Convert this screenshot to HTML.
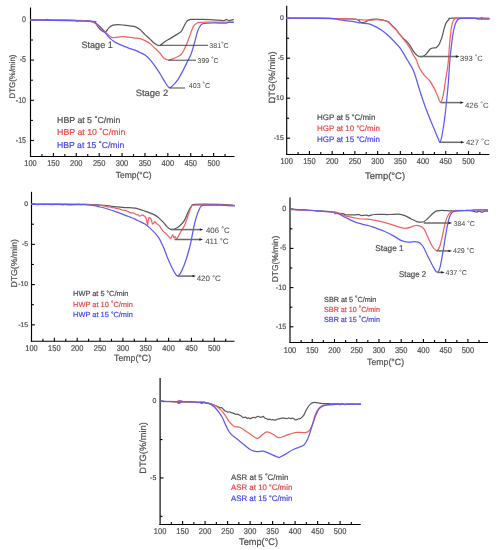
<!DOCTYPE html>
<html><head><meta charset="utf-8"><title>DTG curves</title>
<style>
html,body{margin:0;padding:0;background:#fff;}
body{width:498px;height:550px;overflow:hidden;}
svg{display:block;font-family:'Liberation Sans', Arial, sans-serif;text-rendering:geometricPrecision;}
text{stroke-width:0.22;paint-order:stroke;}
text.ns{stroke-width:0.05;}
</style></head>
<body>
<svg width="498" height="550" viewBox="0 0 498 550">
<rect x="0" y="0" width="498" height="550" fill="#fff"/>
<line x1="30.50" y1="7.50" x2="30.50" y2="157.07" stroke="#000" stroke-width="1.15"/>
<line x1="29.93" y1="156.50" x2="234.50" y2="156.50" stroke="#000" stroke-width="1.15"/>
<line x1="41.95" y1="156.50" x2="41.95" y2="154.10" stroke="#000" stroke-width="1.10"/>
<line x1="53.39" y1="156.50" x2="53.39" y2="153.10" stroke="#000" stroke-width="1.10"/>
<line x1="64.84" y1="156.50" x2="64.84" y2="154.10" stroke="#000" stroke-width="1.10"/>
<line x1="76.28" y1="156.50" x2="76.28" y2="153.10" stroke="#000" stroke-width="1.10"/>
<line x1="87.72" y1="156.50" x2="87.72" y2="154.10" stroke="#000" stroke-width="1.10"/>
<line x1="99.17" y1="156.50" x2="99.17" y2="153.10" stroke="#000" stroke-width="1.10"/>
<line x1="110.61" y1="156.50" x2="110.61" y2="154.10" stroke="#000" stroke-width="1.10"/>
<line x1="122.06" y1="156.50" x2="122.06" y2="153.10" stroke="#000" stroke-width="1.10"/>
<line x1="133.50" y1="156.50" x2="133.50" y2="154.10" stroke="#000" stroke-width="1.10"/>
<line x1="144.95" y1="156.50" x2="144.95" y2="153.10" stroke="#000" stroke-width="1.10"/>
<line x1="156.39" y1="156.50" x2="156.39" y2="154.10" stroke="#000" stroke-width="1.10"/>
<line x1="167.84" y1="156.50" x2="167.84" y2="153.10" stroke="#000" stroke-width="1.10"/>
<line x1="179.28" y1="156.50" x2="179.28" y2="154.10" stroke="#000" stroke-width="1.10"/>
<line x1="190.73" y1="156.50" x2="190.73" y2="153.10" stroke="#000" stroke-width="1.10"/>
<line x1="202.17" y1="156.50" x2="202.17" y2="154.10" stroke="#000" stroke-width="1.10"/>
<line x1="213.62" y1="156.50" x2="213.62" y2="153.10" stroke="#000" stroke-width="1.10"/>
<line x1="225.06" y1="156.50" x2="225.06" y2="154.10" stroke="#000" stroke-width="1.10"/>
<text x="30.50" y="165.90" font-size="8.40" fill="#505050" stroke="#505050" text-anchor="middle" textLength="12.47" lengthAdjust="spacingAndGlyphs">100</text>
<text x="53.39" y="165.90" font-size="8.40" fill="#505050" stroke="#505050" text-anchor="middle" textLength="12.47" lengthAdjust="spacingAndGlyphs">150</text>
<text x="76.28" y="165.90" font-size="8.40" fill="#505050" stroke="#505050" text-anchor="middle" textLength="12.47" lengthAdjust="spacingAndGlyphs">200</text>
<text x="99.17" y="165.90" font-size="8.40" fill="#505050" stroke="#505050" text-anchor="middle" textLength="12.47" lengthAdjust="spacingAndGlyphs">250</text>
<text x="122.06" y="165.90" font-size="8.40" fill="#505050" stroke="#505050" text-anchor="middle" textLength="12.47" lengthAdjust="spacingAndGlyphs">300</text>
<text x="144.95" y="165.90" font-size="8.40" fill="#505050" stroke="#505050" text-anchor="middle" textLength="12.47" lengthAdjust="spacingAndGlyphs">350</text>
<text x="167.84" y="165.90" font-size="8.40" fill="#505050" stroke="#505050" text-anchor="middle" textLength="12.47" lengthAdjust="spacingAndGlyphs">400</text>
<text x="190.73" y="165.90" font-size="8.40" fill="#505050" stroke="#505050" text-anchor="middle" textLength="12.47" lengthAdjust="spacingAndGlyphs">450</text>
<text x="213.62" y="165.90" font-size="8.40" fill="#505050" stroke="#505050" text-anchor="middle" textLength="12.47" lengthAdjust="spacingAndGlyphs">500</text>
<line x1="30.50" y1="19.90" x2="33.90" y2="19.90" stroke="#000" stroke-width="1.10"/>
<line x1="30.50" y1="40.00" x2="32.90" y2="40.00" stroke="#000" stroke-width="1.10"/>
<line x1="30.50" y1="60.10" x2="33.90" y2="60.10" stroke="#000" stroke-width="1.10"/>
<line x1="30.50" y1="80.20" x2="32.90" y2="80.20" stroke="#000" stroke-width="1.10"/>
<line x1="30.50" y1="100.30" x2="33.90" y2="100.30" stroke="#000" stroke-width="1.10"/>
<line x1="30.50" y1="120.40" x2="32.90" y2="120.40" stroke="#000" stroke-width="1.10"/>
<line x1="30.50" y1="140.50" x2="33.90" y2="140.50" stroke="#000" stroke-width="1.10"/>
<text x="26.00" y="22.17" font-size="8.30" fill="#505050" stroke="#505050" text-anchor="end" textLength="3.92" lengthAdjust="spacingAndGlyphs">0</text>
<text x="26.00" y="62.37" font-size="8.30" fill="#505050" stroke="#505050" text-anchor="end" textLength="6.27" lengthAdjust="spacingAndGlyphs">-5</text>
<text x="26.00" y="102.57" font-size="8.30" fill="#505050" stroke="#505050" text-anchor="end" textLength="10.19" lengthAdjust="spacingAndGlyphs">-10</text>
<text x="26.00" y="142.77" font-size="8.30" fill="#505050" stroke="#505050" text-anchor="end" textLength="10.19" lengthAdjust="spacingAndGlyphs">-15</text>
<text transform="translate(14.60,76.50) rotate(-90)" x="0" y="0" font-size="8.00" fill="#505050" stroke="#505050" text-anchor="middle" textLength="44.00" lengthAdjust="spacingAndGlyphs">DTG(%/min)</text>
<text x="115.70" y="177.50" font-size="8.80" fill="#505050" stroke="#505050" textLength="36.00" lengthAdjust="spacingAndGlyphs">Temp(&#176;C)</text>
<line x1="286.70" y1="5.80" x2="286.70" y2="155.07" stroke="#000" stroke-width="1.15"/>
<line x1="286.12" y1="154.50" x2="489.40" y2="154.50" stroke="#000" stroke-width="1.15"/>
<line x1="298.06" y1="154.50" x2="298.06" y2="152.10" stroke="#000" stroke-width="1.10"/>
<line x1="309.43" y1="154.50" x2="309.43" y2="151.10" stroke="#000" stroke-width="1.10"/>
<line x1="320.79" y1="154.50" x2="320.79" y2="152.10" stroke="#000" stroke-width="1.10"/>
<line x1="332.15" y1="154.50" x2="332.15" y2="151.10" stroke="#000" stroke-width="1.10"/>
<line x1="343.51" y1="154.50" x2="343.51" y2="152.10" stroke="#000" stroke-width="1.10"/>
<line x1="354.88" y1="154.50" x2="354.88" y2="151.10" stroke="#000" stroke-width="1.10"/>
<line x1="366.24" y1="154.50" x2="366.24" y2="152.10" stroke="#000" stroke-width="1.10"/>
<line x1="377.60" y1="154.50" x2="377.60" y2="151.10" stroke="#000" stroke-width="1.10"/>
<line x1="388.96" y1="154.50" x2="388.96" y2="152.10" stroke="#000" stroke-width="1.10"/>
<line x1="400.32" y1="154.50" x2="400.32" y2="151.10" stroke="#000" stroke-width="1.10"/>
<line x1="411.69" y1="154.50" x2="411.69" y2="152.10" stroke="#000" stroke-width="1.10"/>
<line x1="423.05" y1="154.50" x2="423.05" y2="151.10" stroke="#000" stroke-width="1.10"/>
<line x1="434.41" y1="154.50" x2="434.41" y2="152.10" stroke="#000" stroke-width="1.10"/>
<line x1="445.77" y1="154.50" x2="445.77" y2="151.10" stroke="#000" stroke-width="1.10"/>
<line x1="457.14" y1="154.50" x2="457.14" y2="152.10" stroke="#000" stroke-width="1.10"/>
<line x1="468.50" y1="154.50" x2="468.50" y2="151.10" stroke="#000" stroke-width="1.10"/>
<line x1="479.86" y1="154.50" x2="479.86" y2="152.10" stroke="#000" stroke-width="1.10"/>
<text x="286.70" y="164.10" font-size="8.40" fill="#505050" stroke="#505050" text-anchor="middle" textLength="12.47" lengthAdjust="spacingAndGlyphs">100</text>
<text x="309.43" y="164.10" font-size="8.40" fill="#505050" stroke="#505050" text-anchor="middle" textLength="12.47" lengthAdjust="spacingAndGlyphs">150</text>
<text x="332.15" y="164.10" font-size="8.40" fill="#505050" stroke="#505050" text-anchor="middle" textLength="12.47" lengthAdjust="spacingAndGlyphs">200</text>
<text x="354.88" y="164.10" font-size="8.40" fill="#505050" stroke="#505050" text-anchor="middle" textLength="12.47" lengthAdjust="spacingAndGlyphs">250</text>
<text x="377.60" y="164.10" font-size="8.40" fill="#505050" stroke="#505050" text-anchor="middle" textLength="12.47" lengthAdjust="spacingAndGlyphs">300</text>
<text x="400.32" y="164.10" font-size="8.40" fill="#505050" stroke="#505050" text-anchor="middle" textLength="12.47" lengthAdjust="spacingAndGlyphs">350</text>
<text x="423.05" y="164.10" font-size="8.40" fill="#505050" stroke="#505050" text-anchor="middle" textLength="12.47" lengthAdjust="spacingAndGlyphs">400</text>
<text x="445.77" y="164.10" font-size="8.40" fill="#505050" stroke="#505050" text-anchor="middle" textLength="12.47" lengthAdjust="spacingAndGlyphs">450</text>
<text x="468.50" y="164.10" font-size="8.40" fill="#505050" stroke="#505050" text-anchor="middle" textLength="12.47" lengthAdjust="spacingAndGlyphs">500</text>
<line x1="286.70" y1="18.20" x2="290.10" y2="18.20" stroke="#000" stroke-width="1.10"/>
<line x1="286.70" y1="38.20" x2="289.10" y2="38.20" stroke="#000" stroke-width="1.10"/>
<line x1="286.70" y1="58.20" x2="290.10" y2="58.20" stroke="#000" stroke-width="1.10"/>
<line x1="286.70" y1="78.20" x2="289.10" y2="78.20" stroke="#000" stroke-width="1.10"/>
<line x1="286.70" y1="98.20" x2="290.10" y2="98.20" stroke="#000" stroke-width="1.10"/>
<line x1="286.70" y1="118.20" x2="289.10" y2="118.20" stroke="#000" stroke-width="1.10"/>
<line x1="286.70" y1="138.20" x2="290.10" y2="138.20" stroke="#000" stroke-width="1.10"/>
<text x="283.70" y="19.93" font-size="6.80" fill="#505050" stroke="#505050" text-anchor="end" textLength="3.78" lengthAdjust="spacingAndGlyphs">0</text>
<text x="283.70" y="59.93" font-size="6.80" fill="#505050" stroke="#505050" text-anchor="end" textLength="6.05" lengthAdjust="spacingAndGlyphs">-5</text>
<text x="283.70" y="99.93" font-size="6.80" fill="#505050" stroke="#505050" text-anchor="end" textLength="9.83" lengthAdjust="spacingAndGlyphs">-10</text>
<text x="283.70" y="139.93" font-size="6.80" fill="#505050" stroke="#505050" text-anchor="end" textLength="9.83" lengthAdjust="spacingAndGlyphs">-15</text>
<text transform="translate(275.20,77.40) rotate(-90)" x="0" y="0" font-size="9.00" fill="#505050" stroke="#505050" text-anchor="middle" textLength="52.00" lengthAdjust="spacingAndGlyphs">DTG(%/min)</text>
<text x="365.10" y="179.10" font-size="9.50" fill="#505050" stroke="#505050" textLength="40.00" lengthAdjust="spacingAndGlyphs">Temp(&#176;C)</text>
<line x1="31.50" y1="191.80" x2="31.50" y2="341.77" stroke="#000" stroke-width="1.15"/>
<line x1="30.93" y1="341.20" x2="234.50" y2="341.20" stroke="#000" stroke-width="1.15"/>
<line x1="42.92" y1="341.20" x2="42.92" y2="338.80" stroke="#000" stroke-width="1.10"/>
<line x1="54.35" y1="341.20" x2="54.35" y2="337.80" stroke="#000" stroke-width="1.10"/>
<line x1="65.78" y1="341.20" x2="65.78" y2="338.80" stroke="#000" stroke-width="1.10"/>
<line x1="77.20" y1="341.20" x2="77.20" y2="337.80" stroke="#000" stroke-width="1.10"/>
<line x1="88.62" y1="341.20" x2="88.62" y2="338.80" stroke="#000" stroke-width="1.10"/>
<line x1="100.05" y1="341.20" x2="100.05" y2="337.80" stroke="#000" stroke-width="1.10"/>
<line x1="111.48" y1="341.20" x2="111.48" y2="338.80" stroke="#000" stroke-width="1.10"/>
<line x1="122.90" y1="341.20" x2="122.90" y2="337.80" stroke="#000" stroke-width="1.10"/>
<line x1="134.32" y1="341.20" x2="134.32" y2="338.80" stroke="#000" stroke-width="1.10"/>
<line x1="145.75" y1="341.20" x2="145.75" y2="337.80" stroke="#000" stroke-width="1.10"/>
<line x1="157.18" y1="341.20" x2="157.18" y2="338.80" stroke="#000" stroke-width="1.10"/>
<line x1="168.60" y1="341.20" x2="168.60" y2="337.80" stroke="#000" stroke-width="1.10"/>
<line x1="180.03" y1="341.20" x2="180.03" y2="338.80" stroke="#000" stroke-width="1.10"/>
<line x1="191.45" y1="341.20" x2="191.45" y2="337.80" stroke="#000" stroke-width="1.10"/>
<line x1="202.88" y1="341.20" x2="202.88" y2="338.80" stroke="#000" stroke-width="1.10"/>
<line x1="214.30" y1="341.20" x2="214.30" y2="337.80" stroke="#000" stroke-width="1.10"/>
<line x1="225.72" y1="341.20" x2="225.72" y2="338.80" stroke="#000" stroke-width="1.10"/>
<text x="31.50" y="351.00" font-size="8.40" fill="#505050" stroke="#505050" text-anchor="middle" textLength="12.47" lengthAdjust="spacingAndGlyphs">100</text>
<text x="54.35" y="351.00" font-size="8.40" fill="#505050" stroke="#505050" text-anchor="middle" textLength="12.47" lengthAdjust="spacingAndGlyphs">150</text>
<text x="77.20" y="351.00" font-size="8.40" fill="#505050" stroke="#505050" text-anchor="middle" textLength="12.47" lengthAdjust="spacingAndGlyphs">200</text>
<text x="100.05" y="351.00" font-size="8.40" fill="#505050" stroke="#505050" text-anchor="middle" textLength="12.47" lengthAdjust="spacingAndGlyphs">250</text>
<text x="122.90" y="351.00" font-size="8.40" fill="#505050" stroke="#505050" text-anchor="middle" textLength="12.47" lengthAdjust="spacingAndGlyphs">300</text>
<text x="145.75" y="351.00" font-size="8.40" fill="#505050" stroke="#505050" text-anchor="middle" textLength="12.47" lengthAdjust="spacingAndGlyphs">350</text>
<text x="168.60" y="351.00" font-size="8.40" fill="#505050" stroke="#505050" text-anchor="middle" textLength="12.47" lengthAdjust="spacingAndGlyphs">400</text>
<text x="191.45" y="351.00" font-size="8.40" fill="#505050" stroke="#505050" text-anchor="middle" textLength="12.47" lengthAdjust="spacingAndGlyphs">450</text>
<text x="214.30" y="351.00" font-size="8.40" fill="#505050" stroke="#505050" text-anchor="middle" textLength="12.47" lengthAdjust="spacingAndGlyphs">500</text>
<line x1="31.50" y1="204.10" x2="34.90" y2="204.10" stroke="#000" stroke-width="1.10"/>
<line x1="31.50" y1="224.22" x2="33.90" y2="224.22" stroke="#000" stroke-width="1.10"/>
<line x1="31.50" y1="244.35" x2="34.90" y2="244.35" stroke="#000" stroke-width="1.10"/>
<line x1="31.50" y1="264.48" x2="33.90" y2="264.48" stroke="#000" stroke-width="1.10"/>
<line x1="31.50" y1="284.60" x2="34.90" y2="284.60" stroke="#000" stroke-width="1.10"/>
<line x1="31.50" y1="304.73" x2="33.90" y2="304.73" stroke="#000" stroke-width="1.10"/>
<line x1="31.50" y1="324.85" x2="34.90" y2="324.85" stroke="#000" stroke-width="1.10"/>
<text x="28.10" y="205.83" font-size="6.80" fill="#505050" stroke="#505050" text-anchor="end" textLength="3.78" lengthAdjust="spacingAndGlyphs">0</text>
<text x="28.10" y="246.08" font-size="6.80" fill="#505050" stroke="#505050" text-anchor="end" textLength="6.05" lengthAdjust="spacingAndGlyphs">-5</text>
<text x="28.10" y="286.33" font-size="6.80" fill="#505050" stroke="#505050" text-anchor="end" textLength="9.83" lengthAdjust="spacingAndGlyphs">-10</text>
<text x="28.10" y="326.58" font-size="6.80" fill="#505050" stroke="#505050" text-anchor="end" textLength="9.83" lengthAdjust="spacingAndGlyphs">-15</text>
<text transform="translate(17.20,263.30) rotate(-90)" x="0" y="0" font-size="8.50" fill="#505050" stroke="#505050" text-anchor="middle" textLength="48.50" lengthAdjust="spacingAndGlyphs">DTG(%/min)</text>
<text x="114.10" y="360.70" font-size="9.00" fill="#505050" stroke="#505050" textLength="37.00" lengthAdjust="spacingAndGlyphs">Temp(&#176;C)</text>
<line x1="290.00" y1="197.60" x2="290.00" y2="343.07" stroke="#000" stroke-width="1.15"/>
<line x1="289.43" y1="342.50" x2="487.90" y2="342.50" stroke="#000" stroke-width="1.15"/>
<line x1="301.12" y1="342.50" x2="301.12" y2="340.10" stroke="#000" stroke-width="1.10"/>
<line x1="312.24" y1="342.50" x2="312.24" y2="339.10" stroke="#000" stroke-width="1.10"/>
<line x1="323.36" y1="342.50" x2="323.36" y2="340.10" stroke="#000" stroke-width="1.10"/>
<line x1="334.48" y1="342.50" x2="334.48" y2="339.10" stroke="#000" stroke-width="1.10"/>
<line x1="345.60" y1="342.50" x2="345.60" y2="340.10" stroke="#000" stroke-width="1.10"/>
<line x1="356.72" y1="342.50" x2="356.72" y2="339.10" stroke="#000" stroke-width="1.10"/>
<line x1="367.84" y1="342.50" x2="367.84" y2="340.10" stroke="#000" stroke-width="1.10"/>
<line x1="378.96" y1="342.50" x2="378.96" y2="339.10" stroke="#000" stroke-width="1.10"/>
<line x1="390.08" y1="342.50" x2="390.08" y2="340.10" stroke="#000" stroke-width="1.10"/>
<line x1="401.20" y1="342.50" x2="401.20" y2="339.10" stroke="#000" stroke-width="1.10"/>
<line x1="412.32" y1="342.50" x2="412.32" y2="340.10" stroke="#000" stroke-width="1.10"/>
<line x1="423.44" y1="342.50" x2="423.44" y2="339.10" stroke="#000" stroke-width="1.10"/>
<line x1="434.56" y1="342.50" x2="434.56" y2="340.10" stroke="#000" stroke-width="1.10"/>
<line x1="445.68" y1="342.50" x2="445.68" y2="339.10" stroke="#000" stroke-width="1.10"/>
<line x1="456.80" y1="342.50" x2="456.80" y2="340.10" stroke="#000" stroke-width="1.10"/>
<line x1="467.92" y1="342.50" x2="467.92" y2="339.10" stroke="#000" stroke-width="1.10"/>
<line x1="479.04" y1="342.50" x2="479.04" y2="340.10" stroke="#000" stroke-width="1.10"/>
<text x="290.00" y="352.60" font-size="8.40" fill="#505050" stroke="#505050" text-anchor="middle" textLength="12.47" lengthAdjust="spacingAndGlyphs">100</text>
<text x="312.24" y="352.60" font-size="8.40" fill="#505050" stroke="#505050" text-anchor="middle" textLength="12.47" lengthAdjust="spacingAndGlyphs">150</text>
<text x="334.48" y="352.60" font-size="8.40" fill="#505050" stroke="#505050" text-anchor="middle" textLength="12.47" lengthAdjust="spacingAndGlyphs">200</text>
<text x="356.72" y="352.60" font-size="8.40" fill="#505050" stroke="#505050" text-anchor="middle" textLength="12.47" lengthAdjust="spacingAndGlyphs">250</text>
<text x="378.96" y="352.60" font-size="8.40" fill="#505050" stroke="#505050" text-anchor="middle" textLength="12.47" lengthAdjust="spacingAndGlyphs">300</text>
<text x="401.20" y="352.60" font-size="8.40" fill="#505050" stroke="#505050" text-anchor="middle" textLength="12.47" lengthAdjust="spacingAndGlyphs">350</text>
<text x="423.44" y="352.60" font-size="8.40" fill="#505050" stroke="#505050" text-anchor="middle" textLength="12.47" lengthAdjust="spacingAndGlyphs">400</text>
<text x="445.68" y="352.60" font-size="8.40" fill="#505050" stroke="#505050" text-anchor="middle" textLength="12.47" lengthAdjust="spacingAndGlyphs">450</text>
<text x="467.92" y="352.60" font-size="8.40" fill="#505050" stroke="#505050" text-anchor="middle" textLength="12.47" lengthAdjust="spacingAndGlyphs">500</text>
<line x1="290.00" y1="209.20" x2="293.40" y2="209.20" stroke="#000" stroke-width="1.10"/>
<line x1="290.00" y1="228.80" x2="292.40" y2="228.80" stroke="#000" stroke-width="1.10"/>
<line x1="290.00" y1="248.40" x2="293.40" y2="248.40" stroke="#000" stroke-width="1.10"/>
<line x1="290.00" y1="268.00" x2="292.40" y2="268.00" stroke="#000" stroke-width="1.10"/>
<line x1="290.00" y1="287.60" x2="293.40" y2="287.60" stroke="#000" stroke-width="1.10"/>
<line x1="290.00" y1="307.20" x2="292.40" y2="307.20" stroke="#000" stroke-width="1.10"/>
<line x1="290.00" y1="326.80" x2="293.40" y2="326.80" stroke="#000" stroke-width="1.10"/>
<text x="286.30" y="211.22" font-size="7.60" fill="#505050" stroke="#505050" text-anchor="end" textLength="4.01" lengthAdjust="spacingAndGlyphs">0</text>
<text x="286.30" y="250.42" font-size="7.60" fill="#505050" stroke="#505050" text-anchor="end" textLength="6.42" lengthAdjust="spacingAndGlyphs">-5</text>
<text x="286.30" y="289.62" font-size="7.60" fill="#505050" stroke="#505050" text-anchor="end" textLength="10.43" lengthAdjust="spacingAndGlyphs">-10</text>
<text x="286.30" y="328.82" font-size="7.60" fill="#505050" stroke="#505050" text-anchor="end" textLength="10.43" lengthAdjust="spacingAndGlyphs">-15</text>
<text transform="translate(277.80,259.00) rotate(-90)" x="0" y="0" font-size="8.40" fill="#505050" stroke="#505050" text-anchor="middle" textLength="46.60" lengthAdjust="spacingAndGlyphs">DTG(%/min)</text>
<text x="367.10" y="365.10" font-size="9.00" fill="#505050" stroke="#505050" textLength="37.00" lengthAdjust="spacingAndGlyphs">Temp(&#176;C)</text>
<line x1="160.10" y1="377.90" x2="160.10" y2="525.08" stroke="#000" stroke-width="1.15"/>
<line x1="159.53" y1="524.50" x2="360.70" y2="524.50" stroke="#000" stroke-width="1.15"/>
<line x1="171.35" y1="524.50" x2="171.35" y2="522.10" stroke="#000" stroke-width="1.10"/>
<line x1="182.60" y1="524.50" x2="182.60" y2="521.10" stroke="#000" stroke-width="1.10"/>
<line x1="193.85" y1="524.50" x2="193.85" y2="522.10" stroke="#000" stroke-width="1.10"/>
<line x1="205.10" y1="524.50" x2="205.10" y2="521.10" stroke="#000" stroke-width="1.10"/>
<line x1="216.35" y1="524.50" x2="216.35" y2="522.10" stroke="#000" stroke-width="1.10"/>
<line x1="227.60" y1="524.50" x2="227.60" y2="521.10" stroke="#000" stroke-width="1.10"/>
<line x1="238.85" y1="524.50" x2="238.85" y2="522.10" stroke="#000" stroke-width="1.10"/>
<line x1="250.10" y1="524.50" x2="250.10" y2="521.10" stroke="#000" stroke-width="1.10"/>
<line x1="261.35" y1="524.50" x2="261.35" y2="522.10" stroke="#000" stroke-width="1.10"/>
<line x1="272.60" y1="524.50" x2="272.60" y2="521.10" stroke="#000" stroke-width="1.10"/>
<line x1="283.85" y1="524.50" x2="283.85" y2="522.10" stroke="#000" stroke-width="1.10"/>
<line x1="295.10" y1="524.50" x2="295.10" y2="521.10" stroke="#000" stroke-width="1.10"/>
<line x1="306.35" y1="524.50" x2="306.35" y2="522.10" stroke="#000" stroke-width="1.10"/>
<line x1="317.60" y1="524.50" x2="317.60" y2="521.10" stroke="#000" stroke-width="1.10"/>
<line x1="328.85" y1="524.50" x2="328.85" y2="522.10" stroke="#000" stroke-width="1.10"/>
<line x1="340.10" y1="524.50" x2="340.10" y2="521.10" stroke="#000" stroke-width="1.10"/>
<line x1="351.35" y1="524.50" x2="351.35" y2="522.10" stroke="#000" stroke-width="1.10"/>
<text x="160.10" y="533.90" font-size="8.40" fill="#505050" stroke="#505050" text-anchor="middle" textLength="12.47" lengthAdjust="spacingAndGlyphs">100</text>
<text x="182.60" y="533.90" font-size="8.40" fill="#505050" stroke="#505050" text-anchor="middle" textLength="12.47" lengthAdjust="spacingAndGlyphs">150</text>
<text x="205.10" y="533.90" font-size="8.40" fill="#505050" stroke="#505050" text-anchor="middle" textLength="12.47" lengthAdjust="spacingAndGlyphs">200</text>
<text x="227.60" y="533.90" font-size="8.40" fill="#505050" stroke="#505050" text-anchor="middle" textLength="12.47" lengthAdjust="spacingAndGlyphs">250</text>
<text x="250.10" y="533.90" font-size="8.40" fill="#505050" stroke="#505050" text-anchor="middle" textLength="12.47" lengthAdjust="spacingAndGlyphs">300</text>
<text x="272.60" y="533.90" font-size="8.40" fill="#505050" stroke="#505050" text-anchor="middle" textLength="12.47" lengthAdjust="spacingAndGlyphs">350</text>
<text x="295.10" y="533.90" font-size="8.40" fill="#505050" stroke="#505050" text-anchor="middle" textLength="12.47" lengthAdjust="spacingAndGlyphs">400</text>
<text x="317.60" y="533.90" font-size="8.40" fill="#505050" stroke="#505050" text-anchor="middle" textLength="12.47" lengthAdjust="spacingAndGlyphs">450</text>
<text x="340.10" y="533.90" font-size="8.40" fill="#505050" stroke="#505050" text-anchor="middle" textLength="12.47" lengthAdjust="spacingAndGlyphs">500</text>
<line x1="160.10" y1="401.20" x2="163.50" y2="401.20" stroke="#000" stroke-width="1.10"/>
<line x1="160.10" y1="439.57" x2="162.50" y2="439.57" stroke="#000" stroke-width="1.10"/>
<line x1="160.10" y1="477.95" x2="163.50" y2="477.95" stroke="#000" stroke-width="1.10"/>
<line x1="160.10" y1="516.33" x2="162.50" y2="516.33" stroke="#000" stroke-width="1.10"/>
<text x="156.30" y="403.01" font-size="7.00" fill="#505050" stroke="#505050" text-anchor="end" textLength="3.89" lengthAdjust="spacingAndGlyphs">0</text>
<text x="156.30" y="479.76" font-size="7.00" fill="#505050" stroke="#505050" text-anchor="end" textLength="6.22" lengthAdjust="spacingAndGlyphs">-5</text>
<text transform="translate(146.00,448.00) rotate(-90)" x="0" y="0" font-size="9.20" fill="#505050" stroke="#505050" text-anchor="middle" textLength="51.60" lengthAdjust="spacingAndGlyphs">DTG(%/min)</text>
<text x="239.10" y="545.10" font-size="9.70" fill="#505050" stroke="#505050" textLength="39.00" lengthAdjust="spacingAndGlyphs">Temp(&#176;C)</text>
<path d="M30.50,19.90 C32.92,19.88 42.25,19.90 45.00,19.80 C47.75,19.70 46.33,19.30 47.00,19.30 C47.67,19.30 46.83,19.67 49.00,19.80 C51.17,19.93 55.67,20.02 60.00,20.10 C64.33,20.18 70.83,20.18 75.00,20.30 C79.17,20.42 82.50,20.65 85.00,20.80 C87.50,20.95 88.33,20.90 90.00,21.20 C91.67,21.50 93.67,21.67 95.00,22.60 C96.33,23.53 97.00,25.57 98.00,26.80 C99.00,28.03 100.00,29.17 101.00,30.00 C102.00,30.83 103.17,31.53 104.00,31.80 C104.83,32.07 105.17,32.30 106.00,31.60 C106.83,30.90 107.83,28.68 109.00,27.60 C110.17,26.52 111.50,25.60 113.00,25.10 C114.50,24.60 116.17,24.60 118.00,24.60 C119.83,24.60 122.00,24.88 124.00,25.10 C126.00,25.32 128.17,25.65 130.00,25.90 C131.83,26.15 133.33,25.98 135.00,26.60 C136.67,27.22 138.33,28.27 140.00,29.60 C141.67,30.93 143.33,33.02 145.00,34.60 C146.67,36.18 148.50,37.68 150.00,39.10 C151.50,40.52 152.83,42.12 154.00,43.10 C155.17,44.08 156.00,44.63 157.00,45.00 C158.00,45.37 158.67,45.87 160.00,45.30 C161.33,44.73 163.33,42.72 165.00,41.60 C166.67,40.48 168.33,39.60 170.00,38.60 C171.67,37.60 173.33,36.60 175.00,35.60 C176.67,34.60 178.80,33.55 180.00,32.60 C181.20,31.65 181.47,31.08 182.20,29.90 C182.93,28.72 183.67,26.88 184.40,25.50 C185.13,24.12 185.87,22.53 186.60,21.60 C187.33,20.67 188.07,20.27 188.80,19.90 C189.53,19.53 188.80,19.48 191.00,19.40 C193.20,19.32 198.33,19.32 202.00,19.40 C205.67,19.48 209.33,19.72 213.00,19.90 C216.67,20.08 221.77,20.58 224.00,20.50 C226.23,20.42 225.63,19.40 226.40,19.40 C227.17,19.40 227.45,20.47 228.60,20.50 C229.75,20.53 232.52,19.75 233.30,19.60" fill="none" stroke="#5a5a5a" stroke-width="1.25" stroke-linejoin="round" stroke-linecap="round"/>
<path d="M30.50,20.20 C35.42,20.20 52.58,20.17 60.00,20.20 C67.42,20.23 72.17,20.17 75.00,20.40 C77.83,20.63 76.33,21.60 77.00,21.60 C77.67,21.60 77.67,20.53 79.00,20.40 C80.33,20.27 83.17,20.65 85.00,20.80 C86.83,20.95 88.33,20.92 90.00,21.30 C91.67,21.68 93.33,22.13 95.00,23.10 C96.67,24.07 98.33,25.68 100.00,27.10 C101.67,28.52 103.33,30.05 105.00,31.60 C106.67,33.15 108.67,35.40 110.00,36.40 C111.33,37.40 111.67,37.48 113.00,37.60 C114.33,37.72 116.17,37.27 118.00,37.10 C119.83,36.93 122.00,36.55 124.00,36.60 C126.00,36.65 128.17,37.15 130.00,37.40 C131.83,37.65 133.33,37.90 135.00,38.10 C136.67,38.30 138.33,38.18 140.00,38.60 C141.67,39.02 143.33,39.77 145.00,40.60 C146.67,41.43 148.33,42.33 150.00,43.60 C151.67,44.87 153.33,46.60 155.00,48.20 C156.67,49.80 158.50,51.52 160.00,53.20 C161.50,54.88 162.67,57.17 164.00,58.30 C165.33,59.43 166.67,59.87 168.00,60.00 C169.33,60.13 170.33,59.68 172.00,59.10 C173.67,58.52 176.50,57.27 178.00,56.50 C179.50,55.73 180.08,55.42 181.00,54.50 C181.92,53.58 182.57,52.72 183.50,51.00 C184.43,49.28 185.53,46.80 186.60,44.20 C187.67,41.60 188.78,38.33 189.90,35.40 C191.02,32.47 192.18,28.62 193.30,26.60 C194.42,24.58 195.48,24.00 196.60,23.30 C197.72,22.60 198.17,22.60 200.00,22.40 C201.83,22.20 204.48,22.15 207.60,22.10 C210.72,22.05 214.42,22.12 218.70,22.10 C222.98,22.08 230.87,22.02 233.30,22.00" fill="none" stroke="#f46262" stroke-width="1.25" stroke-linejoin="round" stroke-linecap="round"/>
<path d="M30.50,19.80 C40.42,20.03 79.25,20.73 90.00,21.20 C100.75,21.67 93.33,21.70 95.00,22.60 C96.67,23.50 98.33,24.93 100.00,26.60 C101.67,28.27 103.33,30.63 105.00,32.60 C106.67,34.57 108.33,36.82 110.00,38.40 C111.67,39.98 113.33,41.07 115.00,42.10 C116.67,43.13 118.33,43.85 120.00,44.60 C121.67,45.35 123.33,45.92 125.00,46.60 C126.67,47.28 128.33,48.10 130.00,48.70 C131.67,49.30 133.33,49.57 135.00,50.20 C136.67,50.83 138.33,51.68 140.00,52.50 C141.67,53.32 143.33,53.92 145.00,55.10 C146.67,56.28 148.33,57.77 150.00,59.60 C151.67,61.43 153.33,63.77 155.00,66.10 C156.67,68.43 158.33,70.93 160.00,73.60 C161.67,76.27 163.45,79.75 165.00,82.10 C166.55,84.45 167.95,87.20 169.30,87.70 C170.65,88.20 171.62,86.53 173.10,85.10 C174.58,83.67 176.52,81.60 178.20,79.10 C179.88,76.60 181.70,72.95 183.20,70.10 C184.70,67.25 185.90,64.65 187.20,62.00 C188.50,59.35 189.80,57.35 191.00,54.20 C192.20,51.05 193.28,46.97 194.40,43.10 C195.52,39.23 196.60,34.03 197.70,31.00 C198.80,27.97 199.90,26.15 201.00,24.90 C202.10,23.65 202.30,23.82 204.30,23.50 C206.30,23.18 209.38,23.07 213.00,23.00 C216.62,22.93 223.50,23.20 226.00,23.10 C228.50,23.00 226.78,22.52 228.00,22.40 C229.22,22.28 232.42,22.40 233.30,22.40" fill="none" stroke="#5c5cf5" stroke-width="1.25" stroke-linejoin="round" stroke-linecap="round"/>
<path d="M286.70,18.00 C288.92,18.02 294.45,18.07 300.00,18.10 C305.55,18.13 313.33,18.10 320.00,18.20 C326.67,18.30 334.67,18.57 340.00,18.70 C345.33,18.83 349.00,18.82 352.00,19.00 C355.00,19.18 356.50,19.22 358.00,19.80 C359.50,20.38 359.78,22.13 361.00,22.50 C362.22,22.87 363.97,22.43 365.30,22.00 C366.63,21.57 367.22,20.37 369.00,19.90 C370.78,19.43 373.83,19.22 376.00,19.20 C378.17,19.18 380.00,19.40 382.00,19.80 C384.00,20.20 386.37,20.70 388.00,21.60 C389.63,22.50 390.63,24.12 391.80,25.20 C392.97,26.28 393.63,26.53 395.00,28.10 C396.37,29.67 398.50,32.73 400.00,34.60 C401.50,36.47 403.00,38.30 404.00,39.30 C405.00,40.30 405.00,39.55 406.00,40.60 C407.00,41.65 408.67,43.67 410.00,45.60 C411.33,47.53 412.67,50.47 414.00,52.20 C415.33,53.93 416.50,55.30 418.00,56.00 C419.50,56.70 421.67,56.70 423.00,56.40 C424.33,56.10 424.83,55.40 426.00,54.20 C427.17,53.00 428.83,50.23 430.00,49.20 C431.17,48.17 432.00,48.25 433.00,48.00 C434.00,47.75 435.00,48.27 436.00,47.70 C437.00,47.13 438.25,45.72 439.00,44.60 C439.75,43.48 440.00,42.25 440.50,41.00 C441.00,39.75 441.42,39.08 442.00,37.10 C442.58,35.12 443.33,31.43 444.00,29.10 C444.67,26.77 445.17,24.68 446.00,23.10 C446.83,21.52 448.00,20.43 449.00,19.60 C450.00,18.77 446.83,18.32 452.00,18.10 C457.17,17.88 475.12,18.38 480.00,18.30 C484.88,18.22 480.88,17.60 481.30,17.60 C481.72,17.60 481.20,18.18 482.50,18.30 C483.80,18.42 488.00,18.30 489.10,18.30" fill="none" stroke="#5a5a5a" stroke-width="1.25" stroke-linejoin="round" stroke-linecap="round"/>
<path d="M286.70,18.30 C295.58,18.37 329.12,18.58 340.00,18.70 C350.88,18.82 347.18,18.75 352.00,19.00 C356.82,19.25 364.90,20.10 368.90,20.20 C372.90,20.30 373.82,19.60 376.00,19.60 C378.18,19.60 380.00,19.80 382.00,20.20 C384.00,20.60 386.37,21.08 388.00,22.00 C389.63,22.92 390.63,24.60 391.80,25.70 C392.97,26.80 393.63,27.12 395.00,28.60 C396.37,30.08 398.33,32.52 400.00,34.60 C401.67,36.68 403.33,38.83 405.00,41.10 C406.67,43.37 408.62,45.88 410.00,48.20 C411.38,50.52 412.23,53.03 413.30,55.00 C414.37,56.97 415.35,57.80 416.40,60.00 C417.45,62.20 418.25,65.62 419.60,68.20 C420.95,70.78 422.85,73.45 424.50,75.50 C426.15,77.55 427.85,78.32 429.50,80.50 C431.15,82.68 433.05,86.02 434.40,88.60 C435.75,91.18 436.58,93.73 437.60,96.00 C438.62,98.27 439.57,102.33 440.50,102.20 C441.43,102.07 442.35,98.97 443.20,95.20 C444.05,91.43 444.88,84.10 445.60,79.60 C446.32,75.10 447.00,71.80 447.50,68.20 C448.00,64.60 448.27,61.83 448.60,58.00 C448.93,54.17 449.18,49.02 449.50,45.20 C449.82,41.38 450.17,38.12 450.50,35.10 C450.83,32.08 451.07,29.43 451.50,27.10 C451.93,24.77 452.50,22.52 453.10,21.10 C453.70,19.68 454.28,19.10 455.10,18.60 C455.92,18.10 452.33,18.15 458.00,18.10 C463.67,18.05 483.92,18.27 489.10,18.30" fill="none" stroke="#f46262" stroke-width="1.25" stroke-linejoin="round" stroke-linecap="round"/>
<path d="M286.70,18.10 C293.92,18.15 321.12,18.10 330.00,18.40 C338.88,18.70 336.33,19.40 340.00,19.90 C343.67,20.40 348.50,20.88 352.00,21.40 C355.50,21.92 358.17,22.58 361.00,23.00 C363.83,23.42 366.50,23.25 369.00,23.90 C371.50,24.55 373.83,25.80 376.00,26.90 C378.17,28.00 380.00,29.10 382.00,30.50 C384.00,31.90 386.00,33.50 388.00,35.30 C390.00,37.10 392.00,39.20 394.00,41.30 C396.00,43.40 397.77,44.78 400.00,47.90 C402.23,51.02 405.22,56.35 407.40,60.00 C409.58,63.65 411.57,66.47 413.10,69.80 C414.63,73.13 415.52,76.63 416.60,80.00 C417.68,83.37 418.27,85.83 419.60,90.00 C420.93,94.17 422.80,100.00 424.60,105.00 C426.40,110.00 428.60,115.50 430.40,120.00 C432.20,124.50 434.07,128.83 435.40,132.00 C436.73,135.17 437.60,137.30 438.40,139.00 C439.20,140.70 439.50,143.37 440.20,142.20 C440.90,141.03 441.80,136.43 442.60,132.00 C443.40,127.57 444.33,120.78 445.00,115.60 C445.67,110.42 446.05,106.35 446.60,100.90 C447.15,95.45 447.75,89.72 448.30,82.90 C448.85,76.08 449.37,66.28 449.90,60.00 C450.43,53.72 451.07,49.02 451.50,45.20 C451.93,41.38 452.07,39.95 452.50,37.10 C452.93,34.25 453.50,30.60 454.10,28.10 C454.70,25.60 455.35,23.60 456.10,22.10 C456.85,20.60 457.62,19.73 458.60,19.10 C459.58,18.47 459.10,18.42 462.00,18.30 C464.90,18.18 473.50,18.27 476.00,18.40 C478.50,18.53 476.33,18.98 477.00,19.10 C477.67,19.22 477.98,19.10 480.00,19.10 C482.02,19.10 487.58,19.10 489.10,19.10" fill="none" stroke="#5c5cf5" stroke-width="1.25" stroke-linejoin="round" stroke-linecap="round"/>
<path d="M31.50,204.00 C40.25,204.07 72.58,204.23 84.00,204.40 C95.42,204.57 95.00,204.63 100.00,205.00 C105.00,205.37 109.83,206.17 114.00,206.60 C118.17,207.03 121.50,207.35 125.00,207.60 C128.50,207.85 131.67,207.52 135.00,208.10 C138.33,208.68 141.67,209.93 145.00,211.10 C148.33,212.27 152.50,213.77 155.00,215.10 C157.50,216.43 158.57,217.83 160.00,219.10 C161.43,220.37 162.40,221.40 163.60,222.70 C164.80,224.00 166.00,225.80 167.20,226.90 C168.40,228.00 169.58,228.95 170.80,229.30 C172.02,229.65 173.08,229.50 174.50,229.00 C175.92,228.50 177.70,227.65 179.30,226.30 C180.90,224.95 182.70,223.10 184.10,220.90 C185.50,218.70 186.50,215.52 187.70,213.10 C188.90,210.68 190.08,207.85 191.30,206.40 C192.52,204.95 190.22,204.73 195.00,204.40 C199.78,204.07 213.45,204.25 220.00,204.40 C226.55,204.55 231.92,205.15 234.30,205.30" fill="none" stroke="#5a5a5a" stroke-width="1.25" stroke-linejoin="round" stroke-linecap="round"/>
<path d="M31.50,204.40 C31.75,204.40 32.38,204.36 33.00,204.37 C33.62,204.38 34.47,204.40 35.20,204.46 C35.93,204.51 36.67,204.73 37.40,204.72 C38.13,204.71 38.87,204.45 39.60,204.41 C40.33,204.36 41.07,204.43 41.80,204.44 C42.53,204.46 43.27,204.54 44.00,204.51 C44.73,204.47 45.47,204.24 46.20,204.24 C46.93,204.23 47.67,204.42 48.40,204.47 C49.13,204.53 49.87,204.53 50.60,204.56 C51.33,204.60 52.07,204.75 52.80,204.69 C53.53,204.63 54.27,204.26 55.00,204.21 C55.73,204.15 56.47,204.36 57.20,204.36 C57.93,204.36 58.67,204.16 59.40,204.22 C60.13,204.28 60.87,204.66 61.60,204.73 C62.33,204.80 63.07,204.75 63.80,204.66 C64.53,204.57 65.27,204.17 66.00,204.21 C66.73,204.25 67.47,204.77 68.20,204.88 C68.93,204.99 69.67,204.91 70.40,204.87 C71.13,204.84 71.87,204.70 72.60,204.66 C73.33,204.63 74.07,204.70 74.80,204.65 C75.53,204.59 76.27,204.40 77.00,204.33 C77.73,204.27 78.47,204.20 79.20,204.24 C79.93,204.29 80.67,204.60 81.40,204.61 C82.13,204.62 82.87,204.32 83.60,204.29 C84.33,204.26 85.07,204.41 85.80,204.46 C86.53,204.51 87.27,204.57 88.00,204.58 C88.73,204.60 89.47,204.47 90.20,204.53 C90.93,204.58 91.67,204.84 92.40,204.92 C93.13,205.00 93.87,204.92 94.60,205.00 C95.33,205.07 95.90,205.32 96.80,205.37 C97.70,205.41 99.17,205.24 100.00,205.26 C100.83,205.27 101.20,205.30 101.80,205.45 C102.40,205.61 103.00,206.09 103.60,206.19 C104.20,206.29 104.80,205.96 105.40,206.06 C106.00,206.16 106.60,206.62 107.20,206.77 C107.80,206.92 108.40,206.92 109.00,206.96 C109.60,207.01 110.20,206.92 110.80,207.05 C111.40,207.18 112.00,207.63 112.60,207.75 C113.20,207.86 113.80,207.60 114.40,207.72 C115.00,207.84 115.60,208.32 116.20,208.47 C116.80,208.61 117.40,208.51 118.00,208.60 C118.60,208.70 119.20,208.85 119.80,209.04 C120.40,209.23 121.00,209.50 121.60,209.74 C122.20,209.98 122.80,210.38 123.40,210.48 C124.00,210.59 124.60,210.28 125.20,210.36 C125.80,210.44 126.40,210.73 127.00,210.98 C127.60,211.23 128.20,211.57 128.80,211.84 C129.40,212.12 130.00,212.46 130.60,212.64 C131.20,212.81 131.80,212.78 132.40,212.88 C133.00,212.99 133.60,213.01 134.20,213.28 C134.80,213.54 135.40,214.25 136.00,214.48 C136.60,214.71 137.20,214.35 137.80,214.64 C138.40,214.92 139.00,216.05 139.60,216.19 C140.20,216.32 140.83,215.65 141.40,215.47 C141.97,215.28 142.23,214.66 143.00,215.10 C143.77,215.54 145.23,216.43 146.00,218.10 C146.77,219.77 147.17,225.10 147.60,225.10 C148.03,225.10 148.03,219.10 148.60,218.10 C149.17,217.10 150.33,218.10 151.00,219.10 C151.67,220.10 152.00,223.68 152.60,224.10 C153.20,224.52 154.20,221.96 154.60,221.60 C155.00,221.24 154.68,221.63 155.00,221.92 C155.32,222.21 156.00,222.91 156.50,223.37 C157.00,223.82 157.50,224.24 158.00,224.65 C158.50,225.07 159.00,225.22 159.50,225.85 C160.00,226.48 160.50,227.68 161.00,228.42 C161.50,229.15 162.00,229.64 162.50,230.26 C163.00,230.87 163.50,231.62 164.00,232.12 C164.50,232.61 165.00,232.81 165.50,233.23 C166.00,233.65 166.50,234.10 167.00,234.63 C167.50,235.17 168.00,235.88 168.50,236.45 C169.00,237.03 169.62,237.74 170.00,238.07 C170.38,238.39 170.35,238.94 170.80,238.40 C171.25,237.86 172.18,234.90 172.70,234.80 C173.22,234.70 173.50,237.50 173.90,237.80 C174.30,238.10 174.60,236.50 175.10,236.60 C175.60,236.70 176.00,239.12 176.90,238.40 C177.80,237.68 179.30,234.32 180.50,232.30 C181.70,230.28 182.90,228.90 184.10,226.30 C185.30,223.70 186.50,219.92 187.70,216.70 C188.90,213.48 190.08,208.92 191.30,207.00 C192.52,205.08 190.22,205.55 195.00,205.20 C199.78,204.85 213.45,204.85 220.00,204.90 C226.55,204.95 231.92,205.40 234.30,205.50" fill="none" stroke="#f46262" stroke-width="1.25" stroke-linejoin="round" stroke-linecap="round"/>
<path d="M31.50,204.30 C40.25,204.35 72.58,204.15 84.00,204.60 C95.42,205.05 95.00,205.92 100.00,207.00 C105.00,208.08 109.83,209.75 114.00,211.10 C118.17,212.45 122.33,214.10 125.00,215.10 C127.67,216.10 128.33,216.43 130.00,217.10 C131.67,217.77 133.33,218.35 135.00,219.10 C136.67,219.85 138.33,220.77 140.00,221.60 C141.67,222.43 143.33,223.02 145.00,224.10 C146.67,225.18 148.33,226.58 150.00,228.10 C151.67,229.62 153.50,231.52 155.00,233.20 C156.50,234.88 157.83,236.37 159.00,238.20 C160.17,240.03 161.17,242.50 162.00,244.20 C162.83,245.90 163.13,246.28 164.00,248.40 C164.87,250.52 165.87,253.68 167.20,256.90 C168.53,260.12 170.58,264.80 172.00,267.70 C173.42,270.60 174.73,272.93 175.70,274.30 C176.67,275.67 177.00,276.10 177.80,275.90 C178.60,275.70 179.45,274.87 180.50,273.10 C181.55,271.33 182.90,268.40 184.10,265.30 C185.30,262.20 186.60,258.22 187.70,254.50 C188.80,250.78 189.70,247.50 190.70,243.00 C191.70,238.50 192.90,231.33 193.70,227.50 C194.50,223.67 194.90,222.20 195.50,220.00 C196.10,217.80 196.72,215.95 197.30,214.30 C197.88,212.65 198.38,211.42 199.00,210.10 C199.62,208.78 200.07,207.22 201.00,206.40 C201.93,205.58 201.43,205.40 204.60,205.20 C207.77,205.00 215.05,205.07 220.00,205.20 C224.95,205.33 231.92,205.87 234.30,206.00" fill="none" stroke="#5c5cf5" stroke-width="1.25" stroke-linejoin="round" stroke-linecap="round"/>
<path d="M290.00,209.30 C292.67,209.42 300.67,209.68 306.00,210.00 C311.33,210.32 317.50,210.87 322.00,211.20 C326.50,211.53 330.67,211.83 333.00,212.00 C335.33,212.17 335.20,212.07 336.00,212.24 C336.80,212.41 337.20,212.85 337.80,213.03 C338.40,213.22 339.00,213.25 339.60,213.34 C340.20,213.43 340.80,213.50 341.40,213.56 C342.00,213.62 342.60,213.52 343.20,213.68 C343.80,213.85 344.40,214.37 345.00,214.56 C345.60,214.76 346.20,214.82 346.80,214.86 C347.40,214.89 348.00,214.76 348.60,214.77 C349.20,214.79 349.80,214.93 350.40,214.94 C351.00,214.96 351.60,214.90 352.20,214.88 C352.80,214.87 353.40,214.87 354.00,214.85 C354.60,214.83 355.20,214.81 355.80,214.77 C356.40,214.73 357.00,214.63 357.60,214.60 C358.20,214.57 358.80,214.40 359.40,214.58 C360.00,214.75 360.60,215.54 361.20,215.67 C361.80,215.79 362.40,215.39 363.00,215.32 C363.60,215.25 364.20,215.31 364.80,215.25 C365.40,215.20 366.00,214.92 366.60,215.02 C367.20,215.11 367.80,215.73 368.40,215.81 C369.00,215.89 369.17,215.70 370.20,215.48 C371.23,215.26 371.47,214.66 374.60,214.50 C377.73,214.34 384.98,214.55 389.00,214.50 C393.02,214.45 396.07,214.00 398.70,214.20 C401.33,214.40 402.78,214.95 404.80,215.70 C406.82,216.45 408.80,217.70 410.80,218.70 C412.80,219.70 415.37,221.13 416.80,221.70 C418.23,222.27 418.25,222.08 419.40,222.10 C420.55,222.12 422.25,222.45 423.70,221.80 C425.15,221.15 426.63,219.53 428.10,218.20 C429.57,216.87 431.05,215.02 432.50,213.80 C433.95,212.58 434.88,211.45 436.80,210.90 C438.72,210.35 441.57,210.50 444.00,210.50 C446.43,210.50 447.90,210.90 451.40,210.90 C454.90,210.90 461.90,210.55 465.00,210.50 C468.10,210.45 468.50,210.47 470.00,210.60 C471.50,210.73 472.92,211.03 474.00,211.30 C475.08,211.57 475.67,212.25 476.50,212.20 C477.33,212.15 478.08,211.00 479.00,211.00 C479.92,211.00 481.08,212.17 482.00,212.20 C482.92,212.23 483.58,211.37 484.50,211.20 C485.42,211.03 487.00,211.20 487.50,211.20" fill="none" stroke="#5a5a5a" stroke-width="1.25" stroke-linejoin="round" stroke-linecap="round"/>
<path d="M290.00,209.60 C292.67,209.70 300.67,209.92 306.00,210.20 C311.33,210.48 317.17,210.95 322.00,211.30 C326.83,211.65 332.33,211.98 335.00,212.30 C337.67,212.62 336.17,212.57 338.00,213.20 C339.83,213.83 343.33,215.35 346.00,216.10 C348.67,216.85 351.33,217.22 354.00,217.70 C356.67,218.18 359.33,218.73 362.00,219.00 C364.67,219.27 367.90,219.10 370.00,219.30 C372.10,219.50 372.22,219.70 374.60,220.20 C376.98,220.70 381.08,221.45 384.30,222.30 C387.52,223.15 391.12,224.40 393.90,225.30 C396.68,226.20 398.98,227.20 401.00,227.70 C403.02,228.20 404.37,228.40 406.00,228.30 C407.63,228.20 409.25,227.57 410.80,227.10 C412.35,226.63 413.90,225.72 415.30,225.50 C416.70,225.28 417.95,225.43 419.20,225.80 C420.45,226.17 421.83,226.90 422.80,227.70 C423.77,228.50 424.12,228.92 425.00,230.60 C425.88,232.28 426.85,235.15 428.10,237.80 C429.35,240.45 431.10,244.37 432.50,246.50 C433.90,248.63 435.30,250.60 436.50,250.60 C437.70,250.60 438.68,249.12 439.70,246.50 C440.72,243.88 441.63,239.02 442.60,234.90 C443.57,230.78 444.52,225.20 445.50,221.80 C446.48,218.40 447.28,216.32 448.50,214.50 C449.72,212.68 451.12,211.57 452.80,210.90 C454.48,210.23 455.73,210.57 458.60,210.50 C461.47,210.43 467.10,210.58 470.00,210.50 C472.90,210.42 473.08,210.08 476.00,210.00 C478.92,209.92 485.58,210.00 487.50,210.00" fill="none" stroke="#f46262" stroke-width="1.25" stroke-linejoin="round" stroke-linecap="round"/>
<path d="M290.00,209.30 C292.67,209.42 300.67,209.68 306.00,210.00 C311.33,210.32 317.50,210.87 322.00,211.20 C326.50,211.53 330.83,211.58 333.00,212.00 C335.17,212.42 334.17,213.42 335.00,213.70 C335.83,213.98 336.17,213.03 338.00,213.70 C339.83,214.37 343.33,216.37 346.00,217.70 C348.67,219.03 351.33,220.63 354.00,221.70 C356.67,222.77 359.33,223.38 362.00,224.10 C364.67,224.82 367.90,225.40 370.00,226.00 C372.10,226.60 372.22,226.82 374.60,227.70 C376.98,228.58 381.08,229.90 384.30,231.30 C387.52,232.70 391.12,234.58 393.90,236.10 C396.68,237.62 398.58,239.38 401.00,240.40 C403.42,241.42 406.17,242.00 408.40,242.20 C410.63,242.40 412.80,241.60 414.40,241.60 C416.00,241.60 416.80,241.70 418.00,242.20 C419.20,242.70 420.60,243.60 421.60,244.60 C422.60,245.60 422.92,246.18 424.00,248.20 C425.08,250.22 426.68,253.82 428.10,256.70 C429.52,259.58 431.05,262.95 432.50,265.50 C433.95,268.05 435.60,271.52 436.80,272.00 C438.00,272.48 438.73,271.43 439.70,268.40 C440.67,265.37 441.63,259.13 442.60,253.80 C443.57,248.47 444.52,241.97 445.50,236.40 C446.48,230.83 447.52,224.28 448.50,220.40 C449.48,216.52 450.20,214.68 451.40,213.10 C452.60,211.52 453.43,211.33 455.70,210.90 C457.97,210.47 462.62,210.58 465.00,210.50 C467.38,210.42 468.17,210.50 470.00,210.40 C471.83,210.30 473.08,209.98 476.00,209.90 C478.92,209.82 485.58,209.90 487.50,209.90" fill="none" stroke="#5c5cf5" stroke-width="1.25" stroke-linejoin="round" stroke-linecap="round"/>
<path d="M160.10,401.20 C161.75,401.25 167.27,401.37 170.00,401.50 C172.73,401.63 175.08,401.70 176.50,402.00 C177.92,402.30 177.83,403.20 178.50,403.30 C179.17,403.40 179.92,402.88 180.50,402.60 C181.08,402.32 180.42,401.70 182.00,401.60 C183.58,401.50 187.08,401.87 190.00,402.00 C192.92,402.13 197.58,402.17 199.50,402.40 C201.42,402.63 200.83,403.37 201.50,403.40 C202.17,403.43 202.83,402.70 203.50,402.60 C204.17,402.50 204.55,402.67 205.50,402.80 C206.45,402.93 208.12,403.14 209.20,403.40 C210.28,403.66 211.27,404.10 212.00,404.36 C212.73,404.62 213.07,404.78 213.60,404.97 C214.13,405.16 214.67,405.29 215.20,405.50 C215.73,405.71 216.27,406.02 216.80,406.24 C217.33,406.46 217.87,406.55 218.40,406.81 C218.93,407.08 219.47,407.68 220.00,407.81 C220.53,407.95 221.07,407.41 221.60,407.63 C222.13,407.85 222.67,408.61 223.20,409.13 C223.73,409.64 224.27,410.35 224.80,410.72 C225.33,411.09 225.87,411.12 226.40,411.36 C226.93,411.60 227.47,412.08 228.00,412.15 C228.53,412.22 229.07,411.71 229.60,411.80 C230.13,411.89 230.67,412.51 231.20,412.70 C231.73,412.89 232.27,412.77 232.80,412.94 C233.33,413.12 233.87,413.53 234.40,413.75 C234.93,413.97 235.47,414.21 236.00,414.27 C236.53,414.33 237.07,414.01 237.60,414.13 C238.13,414.26 238.67,414.73 239.20,415.00 C239.73,415.26 240.27,415.37 240.80,415.72 C241.33,416.06 241.87,416.76 242.40,417.07 C242.93,417.37 243.47,417.52 244.00,417.55 C244.53,417.58 245.07,417.11 245.60,417.23 C246.13,417.35 246.67,418.15 247.20,418.26 C247.73,418.36 248.27,417.78 248.80,417.86 C249.33,417.93 249.87,418.72 250.40,418.71 C250.93,418.70 251.47,418.05 252.00,417.81 C252.53,417.58 253.07,417.27 253.60,417.28 C254.13,417.28 254.67,417.93 255.20,417.83 C255.73,417.74 256.27,416.95 256.80,416.71 C257.33,416.46 257.87,416.30 258.40,416.39 C258.93,416.47 259.47,417.11 260.00,417.23 C260.53,417.35 261.07,417.24 261.60,417.11 C262.13,416.98 262.67,416.31 263.20,416.47 C263.73,416.63 264.27,417.75 264.80,418.09 C265.33,418.42 265.87,418.26 266.40,418.50 C266.93,418.74 267.47,419.42 268.00,419.53 C268.53,419.64 269.07,419.10 269.60,419.18 C270.13,419.25 270.67,419.90 271.20,419.99 C271.73,420.07 272.27,419.71 272.80,419.71 C273.33,419.71 273.87,419.98 274.40,420.01 C274.93,420.05 275.47,420.10 276.00,419.93 C276.53,419.76 277.07,419.19 277.60,419.00 C278.13,418.80 278.67,418.90 279.20,418.78 C279.73,418.66 280.27,418.38 280.80,418.29 C281.33,418.19 281.87,418.24 282.40,418.21 C282.93,418.18 283.47,418.09 284.00,418.12 C284.53,418.15 285.07,418.29 285.60,418.38 C286.13,418.47 286.67,418.75 287.20,418.68 C287.73,418.60 288.27,417.95 288.80,417.94 C289.33,417.93 289.87,418.57 290.40,418.61 C290.93,418.64 291.47,418.17 292.00,418.16 C292.53,418.14 293.07,418.23 293.60,418.51 C294.13,418.79 294.67,419.65 295.20,419.82 C295.73,419.99 296.27,419.69 296.80,419.54 C297.33,419.39 297.80,419.09 298.40,418.93 C299.00,418.77 299.53,419.19 300.40,418.60 C301.27,418.01 302.53,417.00 303.60,415.40 C304.67,413.80 305.63,410.92 306.80,409.00 C307.97,407.08 309.33,405.00 310.60,403.90 C311.87,402.80 312.70,402.50 314.40,402.40 C316.10,402.30 318.47,403.08 320.80,403.30 C323.13,403.52 326.03,403.59 328.40,403.70 C330.77,403.81 333.62,403.91 335.00,403.95 C336.38,403.99 336.13,403.96 336.70,403.93 C337.27,403.90 337.83,403.66 338.40,403.77 C338.97,403.88 339.53,404.58 340.10,404.57 C340.67,404.56 341.23,403.77 341.80,403.71 C342.37,403.65 342.93,404.05 343.50,404.20 C344.07,404.35 344.63,404.67 345.20,404.60 C345.77,404.53 346.33,403.84 346.90,403.78 C347.47,403.72 348.03,404.16 348.60,404.25 C349.17,404.34 349.73,404.40 350.30,404.32 C350.87,404.23 351.43,403.78 352.00,403.74 C352.57,403.70 353.13,403.97 353.70,404.08 C354.27,404.19 354.83,404.39 355.40,404.40 C355.97,404.42 356.53,404.15 357.10,404.15 C357.67,404.16 358.23,404.42 358.80,404.43 C359.37,404.43 360.22,404.24 360.50,404.20" fill="none" stroke="#5a5a5a" stroke-width="1.25" stroke-linejoin="round" stroke-linecap="round"/>
<path d="M160.10,401.50 C162.83,401.52 173.43,401.78 176.50,401.60 C179.57,401.42 177.83,400.50 178.50,400.40 C179.17,400.30 179.92,400.70 180.50,401.00 C181.08,401.30 180.42,402.03 182.00,402.20 C183.58,402.37 187.08,401.95 190.00,402.00 C192.92,402.05 197.58,402.57 199.50,402.50 C201.42,402.43 200.83,401.65 201.50,401.60 C202.17,401.55 202.83,401.93 203.50,402.20 C204.17,402.47 204.55,402.97 205.50,403.20 C206.45,403.43 207.40,403.10 209.20,403.60 C211.00,404.10 214.18,404.95 216.30,406.20 C218.42,407.45 220.27,409.35 221.90,411.10 C223.53,412.85 224.95,415.03 226.10,416.70 C227.25,418.37 227.50,419.52 228.80,421.10 C230.10,422.68 231.98,425.13 233.90,426.20 C235.82,427.27 237.97,426.43 240.30,427.50 C242.63,428.57 245.15,430.80 247.90,432.60 C250.65,434.40 254.47,437.88 256.80,438.30 C259.13,438.72 260.20,436.17 261.90,435.10 C263.60,434.03 265.08,432.00 267.00,431.90 C268.92,431.80 271.48,433.53 273.40,434.50 C275.32,435.47 276.55,437.48 278.50,437.70 C280.45,437.92 283.15,436.43 285.10,435.80 C287.05,435.17 288.28,434.48 290.20,433.90 C292.12,433.32 294.05,432.52 296.60,432.30 C299.15,432.08 303.38,432.87 305.50,432.60 C307.62,432.33 308.13,432.08 309.30,430.70 C310.47,429.32 311.55,426.85 312.50,424.30 C313.45,421.75 314.05,417.95 315.00,415.40 C315.95,412.85 317.03,410.60 318.20,409.00 C319.37,407.40 320.30,406.48 322.00,405.80 C323.70,405.12 325.40,405.20 328.40,404.90 C331.40,404.60 337.73,404.10 340.00,404.01 C342.27,403.92 341.33,404.29 342.00,404.35 C342.67,404.40 343.33,404.33 344.00,404.35 C344.67,404.37 345.33,404.55 346.00,404.48 C346.67,404.41 347.33,404.03 348.00,403.95 C348.67,403.87 349.33,403.99 350.00,403.98 C350.67,403.98 351.33,403.92 352.00,403.92 C352.67,403.92 353.33,403.90 354.00,403.98 C354.67,404.06 355.33,404.40 356.00,404.39 C356.67,404.37 357.25,403.94 358.00,403.90 C358.75,403.87 360.08,404.15 360.50,404.20" fill="none" stroke="#f46262" stroke-width="1.25" stroke-linejoin="round" stroke-linecap="round"/>
<path d="M160.10,401.30 C162.92,401.33 173.85,401.32 177.00,401.50 C180.15,401.68 178.33,402.50 179.00,402.40 C179.67,402.30 180.33,401.03 181.00,400.90 C181.67,400.77 181.50,401.45 183.00,401.60 C184.50,401.75 187.17,401.70 190.00,401.80 C192.83,401.90 198.00,401.97 200.00,402.20 C202.00,402.43 201.33,403.25 202.00,403.20 C202.67,403.15 203.33,401.97 204.00,401.90 C204.67,401.83 204.90,402.43 206.00,402.80 C207.10,403.17 208.88,403.07 210.60,404.10 C212.32,405.13 214.42,406.90 216.30,409.00 C218.18,411.10 220.27,413.88 221.90,416.70 C223.53,419.52 224.73,423.15 226.10,425.90 C227.47,428.65 228.17,430.92 230.10,433.20 C232.03,435.48 235.37,437.68 237.70,439.60 C240.03,441.52 241.97,443.00 244.10,444.70 C246.23,446.40 248.38,448.63 250.50,449.80 C252.62,450.97 254.68,451.48 256.80,451.70 C258.92,451.92 261.07,450.78 263.20,451.10 C265.33,451.42 267.05,452.55 269.60,453.60 C272.15,454.65 276.68,456.87 278.50,457.40 C280.32,457.93 279.18,457.43 280.50,456.80 C281.82,456.17 284.37,454.77 286.40,453.60 C288.43,452.43 290.58,450.87 292.70,449.80 C294.82,448.73 297.18,448.05 299.10,447.20 C301.02,446.35 302.72,446.18 304.20,444.70 C305.68,443.22 306.73,441.28 308.00,438.30 C309.27,435.32 310.52,430.62 311.80,426.80 C313.08,422.98 314.42,418.47 315.70,415.40 C316.98,412.33 318.02,410.07 319.50,408.40 C320.98,406.73 322.68,406.03 324.60,405.40 C326.52,404.77 328.43,404.80 331.00,404.60 C333.57,404.40 335.08,404.27 340.00,404.20 C344.92,404.13 357.08,404.20 360.50,404.20" fill="none" stroke="#5c5cf5" stroke-width="1.25" stroke-linejoin="round" stroke-linecap="round"/>
<line x1="160.00" y1="45.30" x2="208.00" y2="45.30" stroke="#333" stroke-width="0.90"/>
<text x="209.30" y="47.80" font-size="7.00" fill="#505050" stroke="#505050" class="ns" textLength="19.50" lengthAdjust="spacingAndGlyphs">381<tspan dy="-1.40" font-size="5.95">&#176;</tspan><tspan dy="1.40">C</tspan></text>
<line x1="168.50" y1="60.20" x2="196.00" y2="60.20" stroke="#333" stroke-width="0.90"/>
<text x="197.60" y="62.60" font-size="7.00" fill="#505050" stroke="#505050" class="ns" textLength="21.00" lengthAdjust="spacingAndGlyphs">399 <tspan dy="-1.40" font-size="5.95">&#176;</tspan><tspan dy="1.40">C</tspan></text>
<line x1="169.50" y1="88.00" x2="185.00" y2="88.00" stroke="#333" stroke-width="0.90"/>
<text x="188.70" y="87.80" font-size="7.00" fill="#505050" stroke="#505050" class="ns" textLength="21.50" lengthAdjust="spacingAndGlyphs">403 <tspan dy="-1.40" font-size="5.95">&#176;</tspan><tspan dy="1.40">C</tspan></text>
<text x="81.40" y="48.10" font-size="9.20" fill="#505050" stroke="#505050" text-anchor="start" textLength="31.4" lengthAdjust="spacingAndGlyphs">Stage 1</text>
<text x="135.70" y="96.10" font-size="9.20" fill="#505050" stroke="#505050" text-anchor="start" textLength="32.5" lengthAdjust="spacingAndGlyphs">Stage 2</text>
<text x="57.10" y="122.70" font-size="8.60" fill="#505050" stroke="#505050" textLength="63.20" lengthAdjust="spacingAndGlyphs" >HBP at 5 <tspan dy="-1.72" font-size="7.31">&#176;</tspan><tspan dy="1.72">C/min</tspan></text>
<text x="57.10" y="135.20" font-size="8.60" fill="#ec4a4a" stroke="#ec4a4a" textLength="68.20" lengthAdjust="spacingAndGlyphs" >HBP at 10 <tspan dy="-1.72" font-size="7.31">&#176;</tspan><tspan dy="1.72">C/min</tspan></text>
<text x="57.10" y="147.60" font-size="8.60" fill="#4a4aec" stroke="#4a4aec" textLength="67.20" lengthAdjust="spacingAndGlyphs" >HBP at 15 <tspan dy="-1.72" font-size="7.31">&#176;</tspan><tspan dy="1.72">C/min</tspan></text>
<line x1="418.50" y1="56.50" x2="457.50" y2="56.50" stroke="#6a6a6a" stroke-width="1.50"/>
<path d="M459.50,56.50 L455.90,55.30 L455.90,57.70 Z" fill="#222"/>
<text x="460.00" y="60.80" font-size="7.60" fill="#505050" stroke="#505050" class="ns" textLength="22.70" lengthAdjust="spacingAndGlyphs">393 <tspan dy="-1.52" font-size="6.46">&#176;</tspan><tspan dy="1.52">C</tspan></text>
<line x1="440.50" y1="102.60" x2="462.00" y2="102.60" stroke="#6a6a6a" stroke-width="1.50"/>
<path d="M464.00,102.60 L460.40,101.40 L460.40,103.80 Z" fill="#222"/>
<text x="465.00" y="107.90" font-size="7.60" fill="#505050" stroke="#505050" class="ns" textLength="23.60" lengthAdjust="spacingAndGlyphs">426 <tspan dy="-1.52" font-size="6.46">&#176;</tspan><tspan dy="1.52">C</tspan></text>
<line x1="440.20" y1="142.30" x2="462.50" y2="142.30" stroke="#6a6a6a" stroke-width="1.50"/>
<path d="M464.50,142.30 L460.90,141.10 L460.90,143.50 Z" fill="#222"/>
<text x="466.00" y="145.00" font-size="7.60" fill="#505050" stroke="#505050" class="ns" textLength="23.60" lengthAdjust="spacingAndGlyphs">427 <tspan dy="-1.52" font-size="6.46">&#176;</tspan><tspan dy="1.52">C</tspan></text>
<text x="317.10" y="120.10" font-size="8.00" fill="#505050" stroke="#505050" textLength="58.20" lengthAdjust="spacingAndGlyphs" >HGP at 5 <tspan dy="-1.60" font-size="6.80">&#176;</tspan><tspan dy="1.60">C/min</tspan></text>
<text x="317.10" y="131.20" font-size="8.00" fill="#ec4a4a" stroke="#ec4a4a" textLength="62.80" lengthAdjust="spacingAndGlyphs" >HGP at 10 <tspan dy="-1.60" font-size="6.80">&#176;</tspan><tspan dy="1.60">C/min</tspan></text>
<text x="317.10" y="142.20" font-size="8.00" fill="#4a4aec" stroke="#4a4aec" textLength="62.80" lengthAdjust="spacingAndGlyphs" >HGP at 15 <tspan dy="-1.60" font-size="6.80">&#176;</tspan><tspan dy="1.60">C/min</tspan></text>
<line x1="170.80" y1="229.60" x2="201.40" y2="229.60" stroke="#6a6a6a" stroke-width="1.50"/>
<path d="M203.40,229.60 L199.80,228.40 L199.80,230.80 Z" fill="#222"/>
<text x="206.00" y="233.00" font-size="7.80" fill="#505050" stroke="#505050" class="ns" textLength="23.60" lengthAdjust="spacingAndGlyphs">406 <tspan dy="-1.56" font-size="6.63">&#176;</tspan><tspan dy="1.56">C</tspan></text>
<line x1="174.50" y1="239.50" x2="201.00" y2="239.50" stroke="#6a6a6a" stroke-width="1.50"/>
<path d="M203.00,239.50 L199.40,238.30 L199.40,240.70 Z" fill="#222"/>
<text x="205.20" y="244.30" font-size="7.80" fill="#505050" stroke="#505050" class="ns" textLength="23.40" lengthAdjust="spacingAndGlyphs">411 <tspan dy="-1.56" font-size="6.63">&#176;</tspan><tspan dy="1.56">C</tspan></text>
<line x1="177.80" y1="276.10" x2="194.10" y2="276.10" stroke="#6a6a6a" stroke-width="1.50"/>
<path d="M196.10,276.10 L192.50,274.90 L192.50,277.30 Z" fill="#222"/>
<text x="196.70" y="281.20" font-size="7.80" fill="#505050" stroke="#505050" class="ns" textLength="24.00" lengthAdjust="spacingAndGlyphs">420 <tspan dy="-1.56" font-size="6.63">&#176;</tspan><tspan dy="1.56">C</tspan></text>
<text x="73.10" y="296.10" font-size="7.40" fill="#505050" stroke="#505050" textLength="55.30" lengthAdjust="spacingAndGlyphs" >HWP at 5 <tspan dy="-1.48" font-size="6.29">&#176;</tspan><tspan dy="1.48">C/min</tspan></text>
<text x="73.10" y="306.70" font-size="7.40" fill="#ec4a4a" stroke="#ec4a4a" textLength="59.70" lengthAdjust="spacingAndGlyphs" >HWP at 10 <tspan dy="-1.48" font-size="6.29">&#176;</tspan><tspan dy="1.48">C/min</tspan></text>
<text x="73.10" y="317.10" font-size="7.40" fill="#4a4aec" stroke="#4a4aec" textLength="59.70" lengthAdjust="spacingAndGlyphs" >HWP at 15 <tspan dy="-1.48" font-size="6.29">&#176;</tspan><tspan dy="1.48">C/min</tspan></text>
<line x1="423.70" y1="223.00" x2="450.10" y2="223.00" stroke="#6a6a6a" stroke-width="1.50"/>
<path d="M452.10,223.00 L448.50,221.80 L448.50,224.20 Z" fill="#222"/>
<text x="453.50" y="225.90" font-size="7.00" fill="#505050" stroke="#505050" class="ns" textLength="21.30" lengthAdjust="spacingAndGlyphs">384 <tspan dy="-1.40" font-size="5.95">&#176;</tspan><tspan dy="1.40">C</tspan></text>
<line x1="436.50" y1="250.90" x2="450.10" y2="250.90" stroke="#6a6a6a" stroke-width="1.50"/>
<path d="M452.10,250.90 L448.50,249.70 L448.50,252.10 Z" fill="#222"/>
<text x="453.00" y="253.20" font-size="7.00" fill="#505050" stroke="#505050" class="ns" textLength="21.30" lengthAdjust="spacingAndGlyphs">429 <tspan dy="-1.40" font-size="5.95">&#176;</tspan><tspan dy="1.40">C</tspan></text>
<line x1="437.50" y1="272.40" x2="442.80" y2="272.40" stroke="#6a6a6a" stroke-width="1.50"/>
<path d="M444.80,272.40 L441.20,271.20 L441.20,273.60 Z" fill="#222"/>
<text x="445.50" y="275.30" font-size="7.00" fill="#505050" stroke="#505050" class="ns" textLength="21.30" lengthAdjust="spacingAndGlyphs">437 <tspan dy="-1.40" font-size="5.95">&#176;</tspan><tspan dy="1.40">C</tspan></text>
<text x="375.20" y="250.60" font-size="8.40" fill="#505050" stroke="#505050" text-anchor="start" textLength="28.4" lengthAdjust="spacingAndGlyphs">Stage 1</text>
<text x="399.00" y="277.00" font-size="8.40" fill="#505050" stroke="#505050" text-anchor="start" textLength="27.2" lengthAdjust="spacingAndGlyphs">Stage 2</text>
<text x="324.10" y="301.70" font-size="7.40" fill="#505050" stroke="#505050" textLength="52.20" lengthAdjust="spacingAndGlyphs" >SBR at 5 <tspan dy="-1.48" font-size="6.29">&#176;</tspan><tspan dy="1.48">C/min</tspan></text>
<text x="324.10" y="311.70" font-size="7.40" fill="#ec4a4a" stroke="#ec4a4a" textLength="55.80" lengthAdjust="spacingAndGlyphs" >SBR at 10 <tspan dy="-1.48" font-size="6.29">&#176;</tspan><tspan dy="1.48">C/min</tspan></text>
<text x="324.10" y="321.80" font-size="7.40" fill="#4a4aec" stroke="#4a4aec" textLength="55.80" lengthAdjust="spacingAndGlyphs" >SBR at 15 <tspan dy="-1.48" font-size="6.29">&#176;</tspan><tspan dy="1.48">C/min</tspan></text>
<text x="231.00" y="479.50" font-size="8.00" fill="#505050" stroke="#505050" textLength="57.30" lengthAdjust="spacingAndGlyphs" >ASR at 5 <tspan dy="-1.60" font-size="6.80">&#176;</tspan><tspan dy="1.60">C/min</tspan></text>
<text x="231.00" y="490.10" font-size="8.00" fill="#ec4a4a" stroke="#ec4a4a" textLength="61.30" lengthAdjust="spacingAndGlyphs" >ASR at 10 <tspan dy="-1.60" font-size="6.80">&#176;</tspan><tspan dy="1.60">C/min</tspan></text>
<text x="231.00" y="501.10" font-size="8.00" fill="#4a4aec" stroke="#4a4aec" textLength="61.30" lengthAdjust="spacingAndGlyphs" >ASR at 15 <tspan dy="-1.60" font-size="6.80">&#176;</tspan><tspan dy="1.60">C/min</tspan></text>
</svg>
</body></html>
